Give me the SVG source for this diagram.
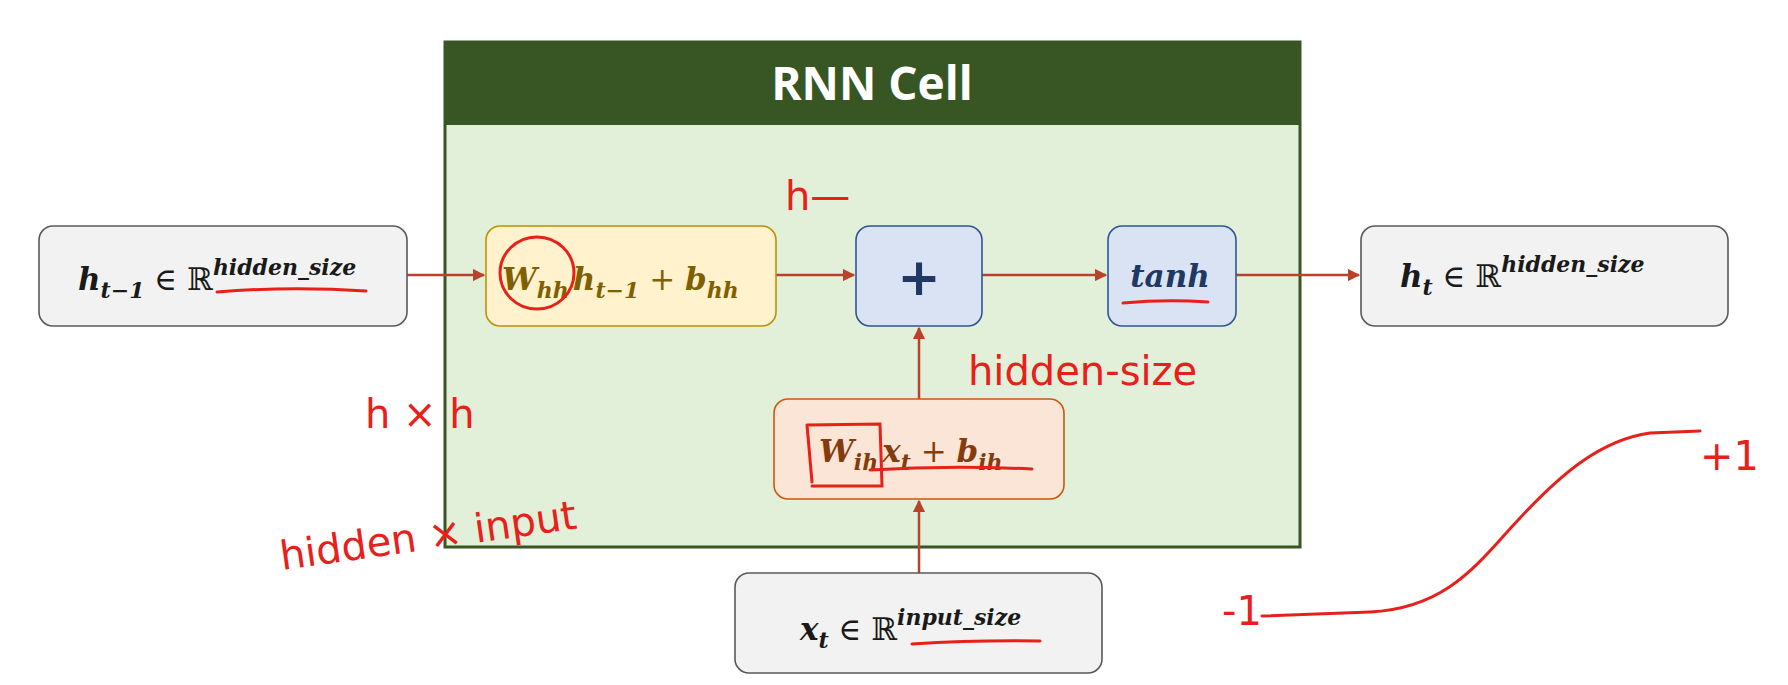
<svg xmlns="http://www.w3.org/2000/svg" width="1788" height="685" viewBox="0 0 1788 685">
<defs>
<marker id="ah" viewBox="0 0 10 10" refX="9" refY="5" markerWidth="5" markerHeight="5" orient="auto"><path d="M0 0L10 5L0 10z" fill="#b9432a"/></marker>
<style>
.box{stroke-width:1.6}
.m{font-family:"DejaVu Serif","Liberation Serif",serif;font-weight:bold;font-style:italic;font-size:31px}
.r{font-family:"DejaVu Serif",serif;font-size:31px;font-style:normal;font-weight:normal}
.sub{font-size:22px}
.hw{font-family:"DejaVu Sans",sans-serif;fill:#e8201a;font-size:40px}
.ink{fill:none;stroke:#e8201a;stroke-width:3;stroke-linecap:round}
.con{stroke:#b9432a;stroke-width:2.5;fill:none;marker-end:url(#ah)}
</style>
</defs>
<rect width="1788" height="685" fill="#ffffff"/>
<g id="cell">
<rect x="445" y="42" width="855" height="505" fill="#e2efd9" stroke="#375623" stroke-width="3"/>
<rect x="445" y="42" width="855" height="83" fill="#375623"/>
<text x="872" y="100" text-anchor="middle" font-family="Open Sans,Liberation Sans,sans-serif" font-weight="bold" font-size="46" fill="#ffffff">RNN Cell</text>
</g>
<g id="connectors">
<line class="con" x1="407" y1="275" x2="484" y2="275"/>
<line class="con" x1="776" y1="275" x2="854" y2="275"/>
<line class="con" x1="982" y1="275" x2="1106" y2="275"/>
<line class="con" x1="1236" y1="275" x2="1359" y2="275"/>
<line class="con" x1="919" y1="573" x2="919" y2="501"/>
<line class="con" x1="919" y1="399" x2="919" y2="328"/>
</g>
<g id="h_prev">
<rect class="box" x="39" y="226" width="368" height="100" rx="14" fill="#f2f2f2" stroke="#595959"/>
<text class="m" x="78" y="290" fill="#1a1a1a">h<tspan class="sub" dy="8">t−1</tspan><tspan class="r" dy="-8"> ∈ ℝ</tspan><tspan class="sub" dy="-15">hidden_size</tspan></text>
</g>
<g id="whh">
<rect class="box" x="486" y="226" width="290" height="100" rx="14" fill="#fff2cc" stroke="#bf9000"/>
<text class="m" x="502" y="290" fill="#7f6000">W<tspan class="sub" dy="8">hh</tspan><tspan dy="-8" dx="4">h</tspan><tspan class="sub" dy="8">t−1</tspan><tspan class="r" dy="-8"> + </tspan>b<tspan class="sub" dy="8">hh</tspan></text>
</g>
<g id="plus">
<rect class="box" x="856" y="226" width="126" height="100" rx="14" fill="#dae3f3" stroke="#2f5597"/>
<text x="919" y="295" text-anchor="middle" font-family="DejaVu Sans,sans-serif" font-weight="bold" font-size="52" fill="#203864">+</text>
</g>
<g id="tanh">
<rect class="box" x="1108" y="226" width="128" height="100" rx="14" fill="#dae3f3" stroke="#2f5597"/>
<text class="m" x="1170" y="287" text-anchor="middle" fill="#203864" font-size="32">tanh</text>
</g>
<g id="h_t">
<rect class="box" x="1361" y="226" width="367" height="100" rx="14" fill="#f2f2f2" stroke="#595959"/>
<text class="m" x="1400" y="287" fill="#1a1a1a">h<tspan class="sub" dy="8">t</tspan><tspan class="r" dy="-8"> ∈ ℝ</tspan><tspan class="sub" dy="-15">hidden_size</tspan></text>
</g>
<g id="wih">
<rect class="box" x="774" y="399" width="290" height="100" rx="14" fill="#fbe5d6" stroke="#c55a11"/>
<text class="m" x="819" y="462" fill="#843c0c">W<tspan class="sub" dy="8">ih</tspan><tspan dy="-8" dx="4">x</tspan><tspan class="sub" dy="8">t</tspan><tspan class="r" dy="-8"> + </tspan>b<tspan class="sub" dy="8">ih</tspan></text>
</g>
<g id="x_t">
<rect class="box" x="735" y="573" width="367" height="100" rx="14" fill="#f2f2f2" stroke="#595959"/>
<text class="m" x="800" y="640" fill="#1a1a1a">x<tspan class="sub" dy="8">t</tspan><tspan class="r" dy="-8"> ∈ ℝ</tspan><tspan class="sub" dy="-15">input_size</tspan></text>
</g>
<g id="annotations">
<text class="hw" x="785" y="210">h—</text>
<text class="hw" x="968" y="385">hidden-size</text>
<text class="hw" x="365" y="428">h × h</text>
<text class="hw" x="282" y="570" transform="rotate(-8 282 570)">hidden × input</text>
<text class="hw" x="1700" y="470">+1</text>
<text class="hw" x="1222" y="625">-1</text>
<path class="ink" d="M1262 616 L1370 612 C1450 608 1480 560 1520 518 C1560 475 1600 440 1650 433 L1700 431"/>
<path class="ink" d="M217 292 Q290 286 366 291"/>
<ellipse class="ink" cx="537" cy="273" rx="37" ry="36"/>
<path class="ink" d="M1123 303 Q1165 299 1208 302"/>
<path class="ink" d="M912 644 Q975 640 1040 641"/>
<path class="ink" d="M870 470 Q950 465 1032 469"/>
<path class="ink" d="M807 425 L812 482 M807 425 L880 424 L882 486 L812 486"/>
</g>
</svg>
